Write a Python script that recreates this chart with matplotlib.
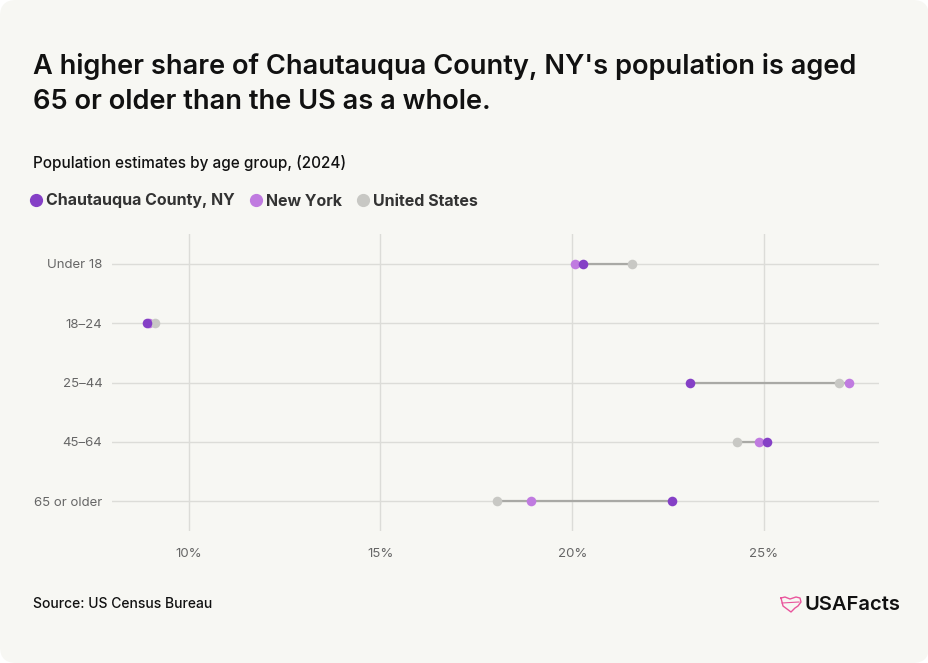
import matplotlib.pyplot as plt
from matplotlib.patches import FancyBboxPatch
from matplotlib.lines import Line2D
from matplotlib.transforms import IdentityTransform

# data (share of population, %)
groups = ["Under 18", "18\u201324", "25\u201344", "45\u201364", "65 or older"]
chautauqua = [20.28, 8.90, 23.08, 25.08, 22.61]
new_york = [20.06, 8.96, 27.21, 24.86, 18.92]
united_states = [21.57, 9.13, 26.95, 24.31, 18.05]
xticks = [10, 15, 20, 25]

W, H = 929, 663
c_county = "#8540c6"
c_ny = "#c07be0"
c_us = "#c8c8c4"
bg = "#f7f7f3"

plt.rcParams['font.family'] = ['Inter', 'DejaVu Sans']

fig = plt.figure(figsize=(W / 100, H / 100), dpi=100, facecolor="white")
card = FancyBboxPatch((0, 0), W, H, boxstyle="round,pad=0,rounding_size=16",
                      transform=IdentityTransform(), facecolor=bg, edgecolor="none", zorder=-10)
fig.patches.append(card)

def fx(x):
    return x / W

def fy(y):
    return 1 - y / H

ax = fig.add_axes([fx(112), fy(531), fx(879) - fx(112), fy(234) - fy(531)])
ax.set_facecolor(bg)

ypos = list(range(len(groups)))
for i in ypos:
    vals = [chautauqua[i], new_york[i], united_states[i]]
    ax.plot([min(vals), max(vals)], [i, i], color="#a9a9a5", lw=1.6, zorder=2, solid_capstyle="butt")

ax.scatter(new_york, ypos, s=48, color=c_ny, zorder=3, linewidths=0)
ax.scatter(chautauqua, ypos, s=48, color=c_county, zorder=4, linewidths=0)
ax.scatter(united_states, ypos, s=48, color=c_us, zorder=3, linewidths=0)

ax.set_xlim(8, 28)
ax.set_ylim(len(groups) - 0.5, -0.5)
ax.set_yticks(ypos)
ax.set_yticklabels(groups)
ax.set_xticks(xticks)
ax.set_xticklabels([f"{t}%" for t in xticks])
ax.tick_params(length=0, colors="#666666", labelsize=9.5)
ax.tick_params(axis="x", pad=12)
ax.tick_params(axis="y", pad=7)
for s in ax.spines.values():
    s.set_visible(False)
ax.grid(True, color="#dcdcd8", lw=1)
ax.set_axisbelow(True)

fig.text(fx(33), fy(84), "A higher share of Chautauqua County, NY's population is aged\n65 or older than the US as a whole.",
         fontsize=19.6, fontweight="semibold", color="#111111", va="center", linespacing=1.42)
fig.text(fx(33), fy(163), "Population estimates by age group, (2024)", fontsize=11,
         fontweight="medium", color="#111111", va="center")

handles = [Line2D([], [], marker="o", ls="none", markersize=8.5, color=c)
           for c in (c_county, c_ny, c_us)]
fig.legend(handles, ["Chautauqua County, NY", "New York", "United States"],
           loc="center left", bbox_to_anchor=(fx(31), fy(201)), ncol=3, frameon=False,
           borderpad=0, borderaxespad=0, handlelength=0.6, handletextpad=0.35,
           columnspacing=1.0, prop={"size": 11.5, "weight": "bold"},
           labelcolor="#333333")

fig.text(fx(33), fy(604), "Source: US Census Bureau", fontsize=10, fontweight="medium",
         color="#111111", va="center")

# logo
fig.text(fx(805), fy(605), "USAFacts", fontsize=14.5, fontweight="semibold", color="#111111",
         va="center", ha="left")
logo_x = [781, 785, 790, 796, 800, 801, 798, 795, 791, 787, 783, 781]
logo_y = [598, 597, 599, 597, 598, 602, 606, 608, 612, 609, 606, 598]
fig.lines.append(Line2D([fx(v) for v in logo_x], [fy(v) for v in logo_y],
                        transform=fig.transFigure, color="#e9559c", lw=1))
fig.lines.append(Line2D([fx(782), fx(799)], [fy(603), fy(602)],
                        transform=fig.transFigure, color="#e9559c", lw=0.8))

fig.savefig("out.png", dpi=100, facecolor="white")
